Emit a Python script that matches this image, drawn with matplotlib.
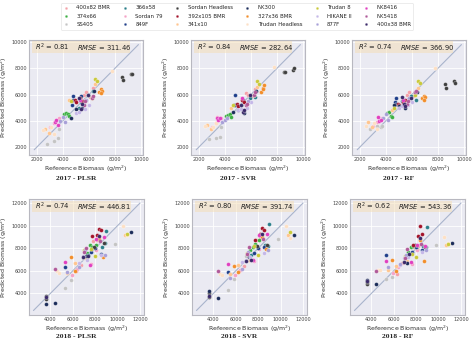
import numpy as np
import matplotlib.pyplot as plt
import matplotlib.patches as mpatches
import seaborn as sns

sns.set_style('darkgrid')
plt.rcParams['font.family'] = ['DejaVu Sans']

# variedades y colores
variedades = ['400x82 BMR', '374x66', 'SS405', '366x58', 'Sordan 79', '849F',
              'Sordan Headless', '392x105 BMR', '341x10', 'NK300', '327x36 BMR',
              'Trudan Headless', 'Trudan 8', 'HIKANE II', '877F', 'NK8416',
              'NK5418', '400x38 BMR']
colores = ['#f4a0a8', '#3cb043', '#c4c4c4', '#2a7f8a', '#f5a3c7', '#1f3f8a',
           '#404040', '#a3122a', '#ffc58f', '#1c2d5a', '#f28e2b',
           '#fde0c5', '#c9c93a', '#c5b8e8', '#a8a0d8', '#e040c0',
           '#b05a9a', '#3b2a6a']

# 2017: biomasa de referencia y predicha (4 repeticiones por variedad)
ref_2017 = [
    [5600, 5800, 6100, 6300], [4100, 4250, 4400, 4500], [2800, 3300, 3600, 3700],
    [5200, 5400, 5900, 6300], [3000, 3300, 3400, 3700], [4700, 4750, 4800, 5400],
    [8500, 8600, 9200, 9300], [4900, 5000, 5300, 5500], [2600, 2900, 4500, 6500],
    [4600, 5000, 5500, 6400], [6800, 6900, 7000, 6900], [2500, 3100, 3300, 7800],
    [6500, 6600, 4600, 6200], [5000, 5200, 5700, 6000], [3800, 4000, 4200, 5800],
    [3400, 3500, 3600, 5300], [5600, 5700, 6200, 6300], [5200, 5400, 5500, 5900]]
plsr_2017 = [
    [6000, 6200, 5800, 6500], [4550, 4600, 4500, 4400], [2200, 2500, 2700, 3400],
    [5000, 5400, 6000, 6300], [3500, 3800, 3900, 4200], [5200, 5900, 5600, 5900],
    [7300, 7100, 7550, 7600], [5600, 5400, 5700, 5500], [3400, 3100, 5600, 6800],
    [4200, 4900, 5000, 6300], [6200, 6400, 6300, 6100], [3300, 3500, 3000, 7800],
    [7200, 7000, 5500, 5700], [4600, 4700, 4900, 5200], [4000, 4300, 3900, 5600],
    [3900, 4100, 3700, 5600], [5200, 5500, 5700, 5900], [5700, 4900, 5300, 6000]]
svr_2017 = [
    [6100, 6000, 5900, 6400], [4350, 4450, 4500, 4300], [2600, 2700, 2800, 3500],
    [5200, 5500, 5700, 5800], [3500, 3800, 4300, 4200], [5200, 5200, 6000, 5600],
    [7700, 7750, 7900, 8000], [5300, 5100, 5600, 5400], [3700, 3400, 5000, 6600],
    [4700, 4800, 4600, 6300], [6200, 6500, 6700, 6400], [3600, 3500, 3800, 8100],
    [7000, 6800, 5200, 6000], [4800, 4900, 5000, 5400], [3900, 4100, 4200, 5500],
    [4200, 4100, 4250, 5700], [5200, 5300, 6000, 6200], [5200, 4700, 4800, 6000]]
rf_2017 = [
    [6000, 6200, 5900, 6300], [4600, 4700, 4350, 4300], [3400, 3600, 3500, 3600],
    [5500, 5200, 5900, 5600], [3600, 3900, 4300, 4200], [5400, 5700, 5300, 5400],
    [6800, 6500, 7000, 6900], [5300, 5200, 5400, 5600], [3900, 3500, 4800, 6500],
    [5200, 5100, 5000, 6200], [5700, 5900, 5800, 5600], [3600, 3800, 3400, 8000],
    [7000, 6900, 5000, 6000], [5000, 5100, 5200, 5400], [4200, 4500, 4100, 5700],
    [4300, 4000, 4100, 5600], [5300, 5500, 6200, 6300], [5800, 5300, 5100, 5700]]

# 2018
ref_2018 = [
    [6300, 6700, 7800, 8200], [7300, 7500, 7700, 8100], [5300, 5800, 6900, 9800],
    [8900, 9000, 7400, 8600], [5900, 6400, 7600, 8100], [5300, 7600, 8500, 8000],
    [3600, 3600, 8800, 7900], [7700, 8200, 8300, 8500], [5500, 7200, 10700, 6200],
    [3600, 4400, 7200, 11200], [5800, 6200, 8700, 8300], [4600, 4800, 10500, 10800],
    [10800, 7000, 7600, 8000], [6600, 6900, 7300, 8500], [5500, 6600, 7100, 8900],
    [5300, 7500, 8100, 8800], [7000, 7200, 4400, 8400], [6900, 7400, 8300, 3600]]
plsr_2018 = [
    [6000, 6500, 8600, 8700], [7600, 8300, 8100, 8300], [4500, 5200, 7100, 8400],
    [8500, 9500, 7400, 8100], [5600, 6200, 6600, 7800], [6300, 7700, 7500, 8000],
    [3800, 3500, 8500, 8100], [9100, 9200, 9700, 9600], [5800, 7100, 9200, 6700],
    [3100, 3200, 7300, 9400], [7200, 6000, 7200, 8800], [6000, 5800, 10000, 9200],
    [9300, 7800, 7900, 7300], [6700, 7300, 7000, 7400], [5900, 6300, 7800, 7400],
    [6800, 6500, 8800, 9000], [7700, 8000, 6200, 8600], [7200, 7300, 9100, 3700]]
svr_2018 = [
    [6000, 6400, 8700, 9000], [7800, 8100, 8400, 8700], [4300, 5300, 7300, 8800],
    [8200, 10100, 7400, 8300], [5600, 6100, 6900, 7900], [5900, 7600, 8100, 8000],
    [3700, 4000, 8300, 8200], [8700, 9300, 9800, 9600], [5700, 7000, 9200, 6500],
    [4200, 3600, 7200, 9200], [6400, 5900, 7900, 9000], [5700, 5600, 10000, 8900],
    [9400, 7600, 8200, 7400], [6800, 7000, 7200, 7600], [5400, 6200, 7700, 7800],
    [6600, 7000, 9200, 9300], [7500, 8100, 6000, 8800], [6900, 7000, 9300, 3800]]
rf_2018 = [
    [5700, 6700, 8100, 8200], [7700, 8100, 8200, 7900], [5300, 5500, 6900, 8300],
    [8100, 9900, 7500, 8200], [5800, 6300, 6600, 7800], [7400, 7700, 7800, 8100],
    [4800, 5000, 8100, 8300], [8300, 9100, 10000, 9300], [6100, 6900, 8300, 6400],
    [5200, 4800, 6700, 8500], [7000, 6000, 6900, 8700], [6100, 6100, 9000, 8500],
    [8400, 7300, 7500, 7200], [6500, 7100, 7200, 7700], [6300, 6600, 7400, 7800],
    [6900, 6800, 8300, 8200], [7100, 7900, 6000, 8400], [6800, 7500, 8900, 5100]]

r2 = [0.81, 0.84, 0.74, 0.74, 0.80, 0.62]
rmse = [311.46, 282.64, 366.90, 446.81, 391.74, 543.36]
titulos = ['2017 - PLSR', '2017 - SVR', '2017 - RF',
           '2018 - PLSR', '2018 - SVR', '2018 - RF']

paneles = [(ref_2017, plsr_2017), (ref_2017, svr_2017), (ref_2017, rf_2017),
           (ref_2018, plsr_2018), (ref_2018, svr_2018), (ref_2018, rf_2018)]

W, H = 474, 347
fig = plt.figure(figsize=(W / 100, H / 100), dpi=100)

# posiciones de los ejes en pixeles (x0, y0 arriba, ancho, alto)
cajas = [(29, 40, 114, 115), (191, 40, 114, 115), (352, 40, 114, 115),
         (29, 199, 115, 116), (192, 199, 115, 116), (350, 199, 115, 116)]

for i, ((ref, pred), caja) in enumerate(zip(paneles, cajas)):
    x0, y0, w, h = caja
    ax = fig.add_axes([x0 / W, 1 - (y0 + h) / H, w / W, h / H])
    ax.set_facecolor('#eaeaf2')
    for j, nombre in enumerate(variedades):
        ax.scatter(ref[j], pred[j], s=8, color=colores[j], edgecolors='white',
                   linewidths=0.2, label=nombre, zorder=3)
    if i < 3:
        lim = (1400, 10150)
        diag = (1800, 9800)
        ticks = [2000, 4000, 6000, 8000, 10000]
    else:
        lim = (2100, 12350)
        diag = (2500, 12000)
        ticks = [4000, 6000, 8000, 10000, 12000]
    ax.plot(diag, diag, color='#a9b4cc', lw=0.8, zorder=2)
    ax.set_xlim(lim)
    ax.set_ylim(lim)
    ax.set_xticks(ticks)
    ax.set_yticks(ticks)
    ax.tick_params(labelsize=3.5, colors='#444444', length=0, pad=1.5)
    ax.grid(color='white', lw=0.6)
    for s in ax.spines.values():
        s.set_visible(True)
        s.set_color('#b8b8c0')
        s.set_linewidth(0.8)
    ax.set_xlabel('Reference Biomass (g/m$^2$)', fontsize=4.5, color='#333333', labelpad=1)
    ax.set_ylabel('Predicted Biomass (g/m$^2$)', fontsize=4.5, color='#333333', labelpad=1.5)

    # recuadro con las metricas
    ax.add_patch(mpatches.Rectangle((0.026, 0.887), 0.86, 0.1, transform=ax.transAxes,
                                    facecolor='wheat', alpha=0.5, edgecolor='none', zorder=5))
    ax.text(0.055, 0.937, f'$R^2$ = {r2[i]:.2f}', transform=ax.transAxes,
            fontsize=4.9, va='center', ha='left', color='#222222', zorder=6)
    ax.text(0.42, 0.937, f'$RMSE$ = {rmse[i]:.2f}', transform=ax.transAxes,
            fontsize=4.9, va='center', ha='left', color='#222222', zorder=6)

    ty = 179 if i < 3 else 337
    fig.text((x0 + w / 2 - 10) / W, 1 - ty / H, titulos[i], ha='center', va='center',
             fontsize=5.4, fontweight='bold', family='Liberation Serif')

handles, labels = ax.get_legend_handles_labels()
leg = fig.legend(handles, labels, loc='upper center', bbox_to_anchor=(0.5, 1.0),
                 ncol=6, fontsize=3.9, frameon=True, markerscale=0.7,
                 handlelength=1.0, handletextpad=1.4, columnspacing=2.2,
                 labelspacing=0.6, borderpad=0.5)
leg.get_frame().set_facecolor('white')
leg.get_frame().set_edgecolor('#dddddd')
leg.get_frame().set_linewidth(0.5)

fig.savefig('out.png', dpi=100, facecolor='white')
